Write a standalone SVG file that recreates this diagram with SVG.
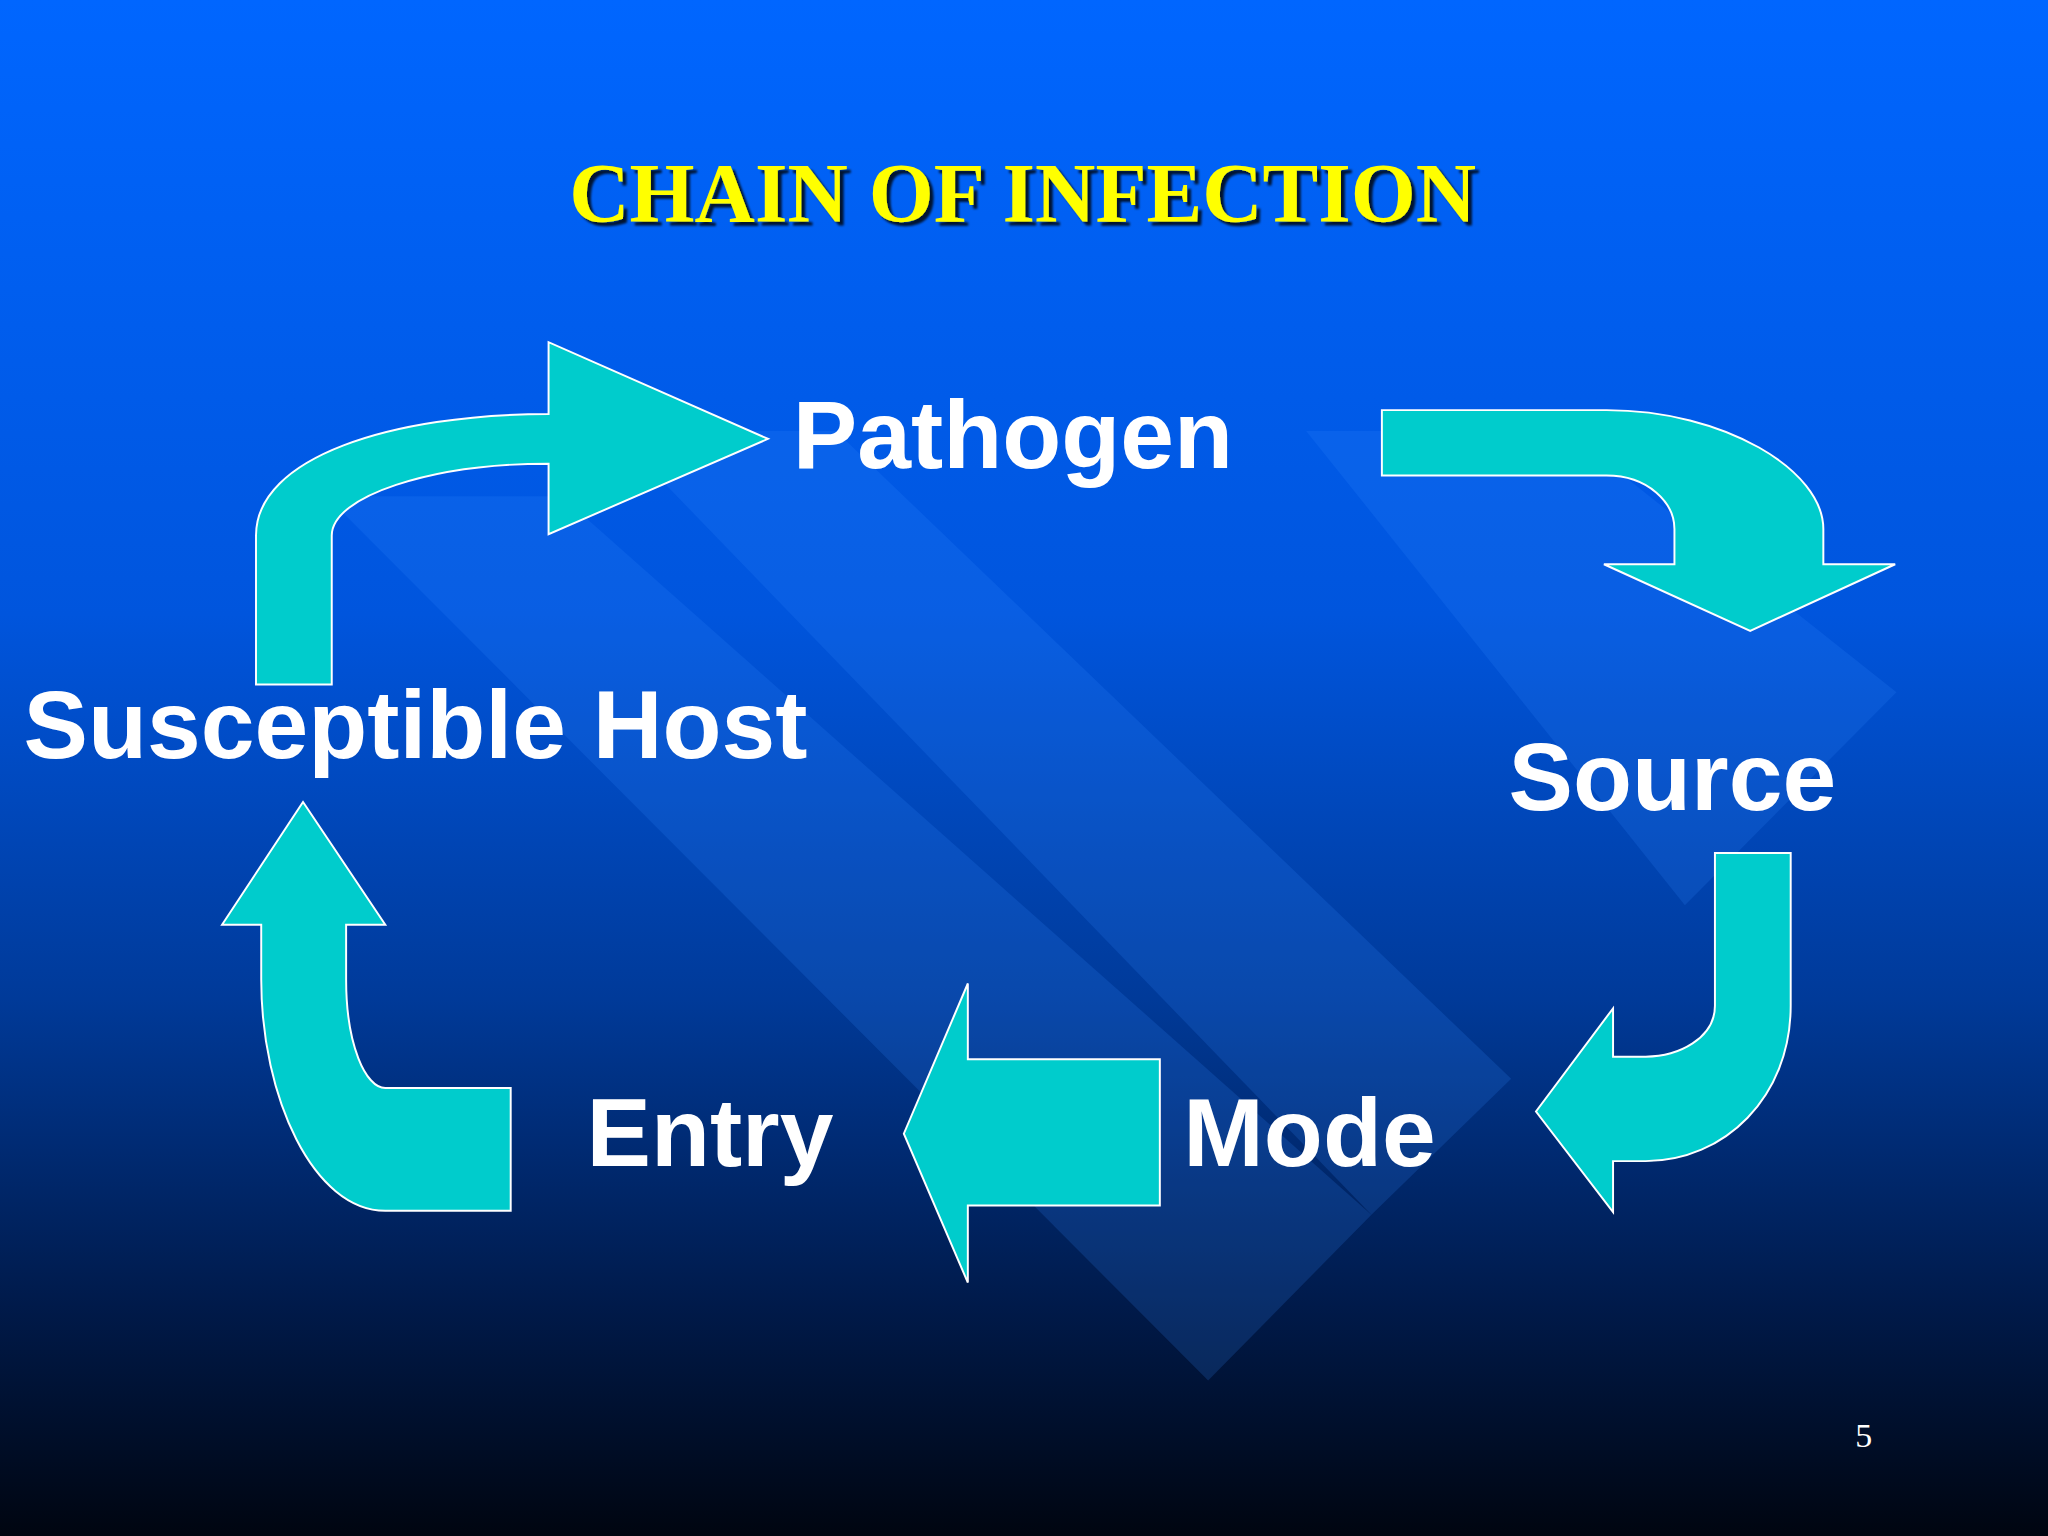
<svg xmlns="http://www.w3.org/2000/svg" width="2048" height="1536" viewBox="0 0 2048 1536">
<defs>
<linearGradient id="bg" x1="0" y1="0" x2="0" y2="1">
<stop offset="0" stop-color="#0066ff"/>
<stop offset="0.4" stop-color="#0055dd"/>
<stop offset="0.65" stop-color="#003a99"/>
<stop offset="0.85" stop-color="#001a4a"/>
<stop offset="1" stop-color="#000510"/>
</linearGradient>
<filter id="sh"><feDropShadow dx="3" dy="3" stdDeviation="1" flood-color="#000" flood-opacity="0.8"/></filter>
</defs>
<style>
.arr{fill:#00cccc;stroke:#ffffff;stroke-width:1.5}
.lbl{font-family:"Liberation Sans",Arial,sans-serif;font-weight:bold;font-size:74px;fill:#fff}
.band{fill:#3388ff;opacity:0.18}
</style>
<g transform="scale(1.30612)">
<rect width="1568" height="1176" fill="url(#bg)"/>
<g id="bands">
<polygon class="band" points="250,380 430,380 1050,930 925,1057"/>
<polygon class="band" points="470,330 640,330 1157,826 1050,930"/>
<polygon class="band" points="1000,330 1200,330 1452,530 1290,693"/>
</g>
<text id="title" x="783" y="170" text-anchor="middle" font-family="Liberation Serif,'Times New Roman',serif" font-weight="bold" font-size="64" fill="#ffff00" filter="url(#sh)">CHAIN OF INFECTION</text>
<g id="connectors">
<path class="arr" d="M196,524 L196,410 C196,350 300,317 420,317 L420,262 L588,336 L420,409 L420,355 C330,355 254,380 254,410 L254,524 Z"/>
<path class="arr" d="M1058,314 L1230,314 C1320,314 1396,360 1396,405 L1396,432 L1451,432 L1340,483 L1228,432 L1282,432 L1282,405 C1282,385 1262,364 1230,364 L1058,364 Z"/>
<path class="arr" d="M1371,653 L1371,770 C1371,840 1320,889 1260,889 L1235,889 L1235,928 L1176,851 L1235,772 L1235,809 L1260,809 C1285,809 1313,795 1313,770 L1313,653 Z"/>
<path class="arr" d="M888,811 L888,923 L741,923 L741,982 L692,868 L741,753 L741,811 Z"/>
<path class="arr" d="M391,833 L391,927 L295,927 C240,927 200,840 200,750 L200,708 L170,708 L232,614 L295,708 L265,708 L265,750 C265,800 280,833 295,833 Z"/>
</g>
<g id="pathogen"><text class="lbl" x="607" y="358">Pathogen</text></g>
<g id="host"><text class="lbl" x="18" y="580">Susceptible Host</text></g>
<g id="source"><text class="lbl" x="1155" y="620">Source</text></g>
<g id="entry"><text class="lbl" x="449" y="893">Entry</text></g>
<g id="mode"><text class="lbl" x="906" y="893">Mode</text></g>
<text x="1427" y="1108" text-anchor="middle" font-family="Liberation Serif,serif" font-size="26" fill="#fff">5</text>
</g>
</svg>
